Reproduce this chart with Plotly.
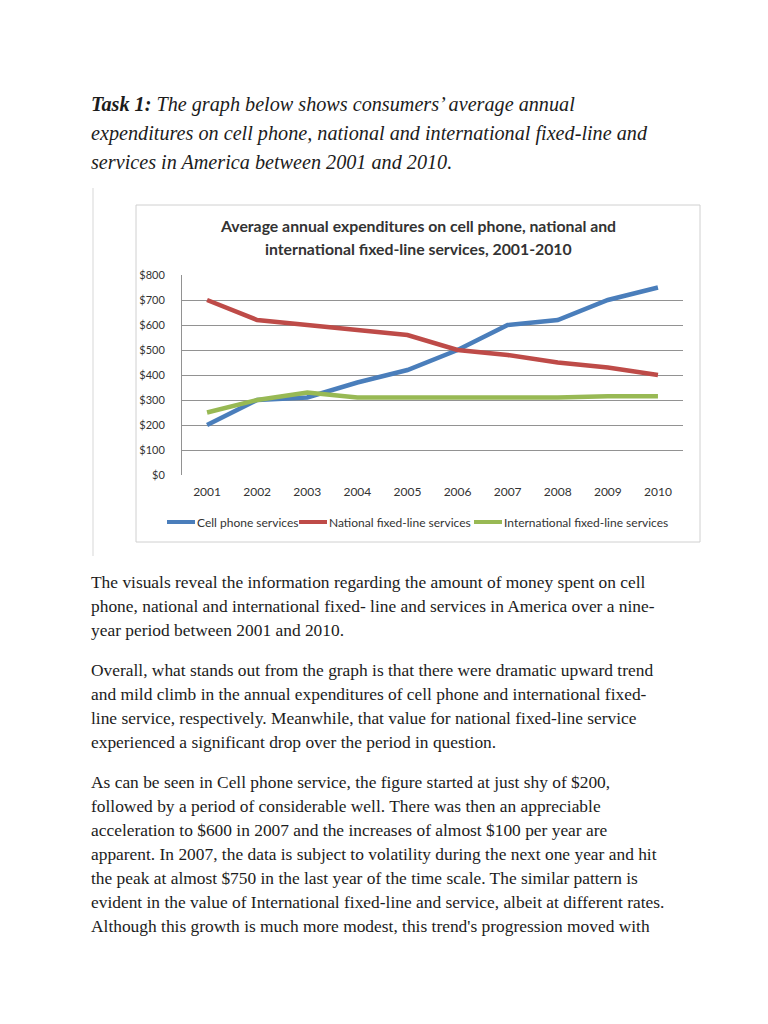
import plotly.graph_objects as go

years = ["2001", "2002", "2003", "2004", "2005", "2006", "2007", "2008", "2009", "2010"]
cell_phone = [200, 300, 310, 370, 420, 500, 600, 620, 700, 750]
national_fixed = [700, 620, 600, 580, 560, 500, 480, 450, 430, 400]
international_fixed = [250, 300, 330, 310, 310, 310, 310, 310, 315, 315]
y_ticks = [0, 100, 200, 300, 400, 500, 600, 700, 800]
y_tick_labels = ["$0", "$100", "$200", "$300", "$400", "$500", "$600", "$700", "$800"]

series_names = ["Cell phone services", "National fixed-line services", "International fixed-line services"]
series_colors = ["#4A7EBB", "#BE4B48", "#98B954"]

chart_title = ["Average annual expenditures on cell phone, national and",
               "international fixed-line services, 2001-2010"]

heading_lines = [
    "<b><i>Task 1:</i></b><i> The graph below shows consumers’ average annual</i>",
    "<i>expenditures on cell phone, national and international fixed-line and</i>",
    "<i>services in America between 2001 and 2010.</i>",
]
para1 = [
    "The visuals reveal the information regarding the amount of money spent on cell",
    "phone, national and international fixed- line and services in America over a nine-",
    "year period between 2001 and 2010.",
]
para2 = [
    "Overall, what stands out from the graph is that there were dramatic upward trend",
    "and mild climb in the annual expenditures of cell phone and international fixed-",
    "line service, respectively. Meanwhile, that value for national fixed-line service",
    "experienced a significant drop over the period in question.",
]
para3 = [
    "As can be seen in Cell phone service, the figure started at just shy of $200,",
    "followed by a period of considerable well. There was then an appreciable",
    "acceleration to $600 in 2007 and the increases of almost $100 per year are",
    "apparent. In 2007, the data is subject to volatility during the next one year and hit",
    "the peak at almost $750 in the last year of the time scale. The similar pattern is",
    "evident in the value of International fixed-line and service, albeit at different rates.",
    "Although this growth is much more modest, this trend's progression moved with",
]

W, H = 768, 1024
PL, PR, PT, PB = 182, 683, 275, 475  # plot area in pixels


def px(xp):
    return (xp - PL) / (PR - PL)


def py(yp):
    return (PB - yp) / (PB - PT)


fig = go.Figure()
for name, vals, col in zip(series_names, [cell_phone, national_fixed, international_fixed], series_colors):
    fig.add_trace(go.Scatter(x=years, y=vals, name=name, mode="lines",
                             line=dict(color=col, width=4.5), showlegend=False))

annotations = []
shapes = []
for i, t in enumerate(chart_title):
    annotations.append(dict(text="<b>" + t + "</b>", x=px(418), y=py(226 + i * 22.5),
                            xref="paper", yref="paper", xanchor="center", yanchor="middle",
                            showarrow=False, font=dict(family="Lato", size=15.8, color="#333333")))

text_font = dict(family="Liberation Serif", color="#1c1c1c")
for i, t in enumerate(heading_lines):
    annotations.append(dict(text=t, x=px(89), y=py(105 + i * 28.5), xref="paper", yref="paper",
                            xanchor="left", yanchor="middle", showarrow=False,
                            font=dict(size=20.2, **text_font)))
for start, lines in [(582, para1), (670, para2), (782, para3)]:
    for i, t in enumerate(lines):
        annotations.append(dict(text=t, x=px(89), y=py(start + i * 24), xref="paper", yref="paper",
                                xanchor="left", yanchor="middle", showarrow=False,
                                font=dict(size=17.4, **text_font)))

# legend drawn as line samples + labels
legend_x0 = [167, 299, 474]
for x0, name, col in zip(legend_x0, series_names, series_colors):
    shapes.append(dict(type="line", xref="paper", yref="paper", x0=px(x0), x1=px(x0 + 28),
                       y0=py(522), y1=py(522), line=dict(color=col, width=4)))
    annotations.append(dict(text=name, x=px(x0 + 28), y=py(522), xref="paper", yref="paper",
                            xanchor="left", yanchor="middle", showarrow=False,
                            font=dict(family="Lato", size=12, color="#333333")))

shapes += [
    dict(type="rect", xref="paper", yref="paper", x0=px(136), x1=px(700), y0=py(542), y1=py(205),
         line=dict(color="#d0d0d0", width=1), layer="below"),
    dict(type="line", xref="paper", yref="paper", x0=px(93), x1=px(93), y0=py(556), y1=py(188),
         line=dict(color="#e4e4e4", width=1.5), layer="below"),
]

fig.update_layout(
    width=W, height=H,
    margin=dict(l=PL, r=W - PR, t=PT, b=H - PB, autoexpand=False),
    paper_bgcolor="white", plot_bgcolor="white",
    showlegend=False,
    annotations=annotations,
    shapes=shapes,
    xaxis=dict(type="category", categoryorder="array", categoryarray=years,
               range=[-0.5, len(years) - 0.5], showgrid=False, zeroline=False,
               showline=False, ticks="", ticklabelstandoff=8,
               tickfont=dict(family="Lato", size=12, color="#333333"), fixedrange=True),
    yaxis=dict(range=[0, 800], tickvals=y_ticks, ticktext=y_tick_labels,
               showgrid=True, gridcolor="#929292", gridwidth=1, zeroline=False,
               showline=True, linecolor="#929292", linewidth=1, ticks="",
               ticklabelstandoff=14,
               tickfont=dict(family="Lato", size=11, color="#333333"), fixedrange=True),
)

fig.write_html("out.html", post_script="document.body.style.margin='0';document.body.style.overflow='hidden';",
               config={"displayModeBar": False})
